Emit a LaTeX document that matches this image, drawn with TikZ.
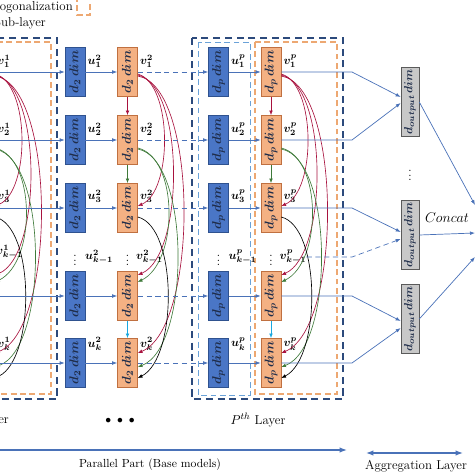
\documentclass[tikz,border=0pt]{standalone}
\usepackage{amsmath,amssymb}
\usepackage{bm}
\usepackage{tikz}
\usetikzlibrary{arrows.meta,calc,positioning}
\usepackage{xcolor}
\definecolor{OrtBlue}{HTML}{4A76C6}
\definecolor{OrtBlueEdge}{HTML}{2F528F}
\definecolor{OrtOrange}{HTML}{F4B183}
\definecolor{OrtOrangeEdge}{HTML}{C07040}
\definecolor{OrtGray}{HTML}{C8C8C8}
\definecolor{OrtGrayEdge}{HTML}{5A5A5A}
\definecolor{OrtNavy}{HTML}{2C4A7C}
\definecolor{OrtSky}{HTML}{6AA2D8}
\definecolor{OrtPeach}{HTML}{EDA872}
\definecolor{OrtLine}{HTML}{4A72B8}
\definecolor{OrtRed}{HTML}{A8123E}
\definecolor{OrtGreen}{HTML}{3F7A3A}
\definecolor{OrtCyan}{HTML}{1AA7DE}
\definecolor{OrtText}{HTML}{1F2D4A}

\begin{document}
\begin{tikzpicture}[
  x=0.03cm,y=-0.03cm,>=Latex,
  flow/.style={-{Latex[length=1.5mm,width=1.1mm]},draw=OrtLine,line width=0.6pt},
  skip/.style={flow,dash pattern=on 4.5pt off 3pt},
  cell/.style={draw=OrtBlueEdge,fill=OrtBlue,line width=0.5pt,inner sep=0pt,
    minimum width=0.6cm,minimum height=1.47cm,text=OrtText,
    font=\fontsize{11}{13}\selectfont},
  ucell/.style={cell},
  vcell/.style={cell,draw=OrtOrangeEdge,fill=OrtOrange},
  ocell/.style={cell,draw=OrtGrayEdge,fill=OrtGray,minimum width=0.54cm,
    minimum height=2.07cm,font=\normalsize},
  ghost/.style={inner sep=0pt,minimum width=0.6cm,minimum height=1.47cm},
  lbl/.style={inner sep=0pt,text=black},
  big/.style={lbl,font=\fontsize{11}{13}\selectfont},
  layerbox/.style={draw=OrtNavy,line width=1.6pt,dash pattern=on 6pt off 4pt},
  subbox/.style={draw=OrtSky,line width=0.8pt,dash pattern=on 5pt off 3pt},
  orthbox/.style={draw=OrtPeach,line width=1.0pt,dash pattern=on 5pt off 3pt},
  link/.style={-{Latex[length=1.4mm,width=1.1mm]},line width=0.55pt},
  wide/.style={-{Latex[length=2.2mm,width=1.6mm]},draw=OrtLine,line width=1.1pt}
]

\newcommand{\orttxt}[1]{\rotatebox{90}{$\bm{#1}$}}
% orthogonalization links inside one layer (rows 1,2,3,k-1,k)
\newcommand{\ortharcs}[1]{%
  \draw[link,draw=OrtRed] (#11) -- (#12);
  \draw[link,draw=OrtGreen] (#12) -- (#13);
  \draw[link,draw=OrtCyan] (#14) -- (#15);
  \draw[link,draw=OrtRed] ($(#11.east)+(0,2)$) .. controls +(35,10) and +(35,-15) .. ($(#13.east)+(0,-2)$);
  \draw[link,draw=OrtRed] ($(#11.east)+(0,3)$) .. controls +(47,10) and +(47,-20) .. ($(#14.east)+(0,-21)$);
  \draw[link,draw=OrtRed] ($(#11.east)+(0,4)$) .. controls +(61,10) and +(61,-25) .. ($(#15.east)+(0,-10)$);
  \draw[link,draw=OrtGreen] ($(#12.east)+(0,8)$) .. controls +(41,10) and +(41,-20) .. ($(#14.east)+(0,-14)$);
  \draw[link,draw=OrtGreen] ($(#12.east)+(0,9)$) .. controls +(53,10) and +(53,-20) .. ($(#15.east)+(0,4)$);
  \draw[link,draw=black] ($(#13.east)+(0,9)$) .. controls +(40,10) and +(40,-20) .. ($(#15.east)+(0,15)$);
}

\useasboundingbox (0,0) rectangle (474,474);

% legend
\node[big,anchor=east] (legorth) at (73,7) {Orthogonalization};
\draw[orthbox] (77,-4) rectangle (90,15);
\node[big,anchor=east] (legsub) at (46,23) {Sub-layer};

% frames of the first and the P-th layer
\draw[layerbox] (-94,38) rectangle (57,399);
\draw[orthbox] (-31,42) rectangle (51,394);
\draw[layerbox] (192,38) rectangle (343,399);
\draw[subbox] (198,42) rectangle (250,395);
\draw[orthbox] (255,42) rectangle (337,394);

% first layer, only its right edge is in view
\foreach \r/\y in {1/72,2/140,3/208,4/296,5/363}
  \node[ghost] (v1\r) at (-15,\y) {};
\foreach \r/\i/\ly in {1/1/-11,2/2/-11,3/3/-12,5/k/-19}
  \node[lbl,anchor=west] at ($(v1\r.east)+(2,\ly)$) {$\bm{v_{\i}^{1}}$};
\node[lbl,anchor=west] (v1dots) at (-4,252) {$\bm{v_{k-1}^{1}}$};
\ortharcs{v1}

% second and P-th layer
\foreach \L/\dx in {2/0,p/143.5}{
  \foreach \r/\y in {1/72,2/140,3/208,4/296,5/363}{
    \node[ucell] (u\L\r) at ({75+\dx},\y) {\orttxt{d_\L\,dim}};
    \node[vcell] (v\L\r) at ({127.5+\dx},\y) {\orttxt{d_\L\,dim}};
  }
  \foreach \r/\i/\ly in {1/1/-11,2/2/-11,3/3/-12,5/k/-19}{
    \node[lbl,anchor=west] at ($(u\L\r.east)+(2,\ly)$) {$\bm{u_{\i}^{\L}}$};
    \node[lbl,anchor=west] at ($(v\L\r.east)+(2,\ly)$) {$\bm{v_{\i}^{\L}}$};
  }
  \node[lbl] at ({75+\dx},257) {$\vdots$};
  \node[lbl] at ({127.5+\dx},257) {$\vdots$};
  \node[lbl,anchor=west] (u\L dots) at ({85+\dx},257) {$\bm{u_{k-1}^{\L}}$};
  \node[lbl,anchor=west] (v\L dots) at ({136+\dx},257) {$\bm{v_{k-1}^{\L}}$};
}
\ortharcs{v2}
\ortharcs{vp}

\foreach \r in {1,...,5}{
  \draw[flow] (v1\r) -- (u2\r);
  \draw[flow] (u2\r) -- (v2\r);
  \draw[skip] (v2\r) -- (up\r);
  \draw[flow] (up\r) -- (vp\r);
}

% aggregation layer
\node[ocell] (out1) at (410,102) {\orttxt{d_{output}\,dim}};
\node[lbl] (odots) at (410,172) {$\vdots$};
\node[ocell] (out2) at (410,235) {\orttxt{d_{output}\,dim}};
\node[ocell] (out3) at (410,319) {\orttxt{d_{output}\,dim}};
\coordinate (bend) at (352,0);

\draw[flow] (vp1) -- (vp1 -| bend) -- ($(out1.west)+(0,-5)$);
\draw[flow] (vp2) -- (vp2 -| bend) -- ($(out1.west)+(0,1)$);
\draw[flow] (vp3) -- (vp3 -| bend) -- ($(out2.west)+(0,-3)$);
\draw[skip] (vpdots.east) -- (vpdots.east -| bend) -- ($(out2.west)+(0,4)$);
\draw[flow] (vp4) -- (vp4 -| bend) -- ($(out3.west)+(0,2)$);
\draw[flow] (vp5) -- (vp5 -| bend) -- ($(out3.west)+(0,9)$);

\coordinate (cat1) at (475,205);
\coordinate (cat2) at (475,233);
\coordinate (cat3) at (475,257);
\draw[flow] (out1.east) -- (cat1);
\draw[flow] (out2.east) -- (cat2);
\draw[flow] (out3.east) -- (cat3);
\node[lbl] (concat) at (447,218) {\large$Concat$};

% layer names and bottom arrows
\node[big,anchor=east] (lay1) at (9,420) {$1^{st}$ Layer};
\node[lbl] (more) at (120,421) {$\bullet\;\bullet\;\bullet$};
\node[big] (layp) at (258,420) {$P^{th}$ Layer};

\coordinate (parL) at (-10,450);
\coordinate (parR) at (347,450);
\draw[wide] (parL) -- (parR);
\node[lbl] (partxt) at (150,465) {Parallel Part (Base models)};
\coordinate (aggL) at (366,453);
\coordinate (aggR) at (463,453);
\draw[wide,{Latex[length=2.2mm,width=1.6mm]}-{Latex[length=2.2mm,width=1.6mm]}] (aggL) -- (aggR);
\node[big] (aggtxt) at (416,466) {Aggregation Layer};

\end{tikzpicture}
\end{document}
